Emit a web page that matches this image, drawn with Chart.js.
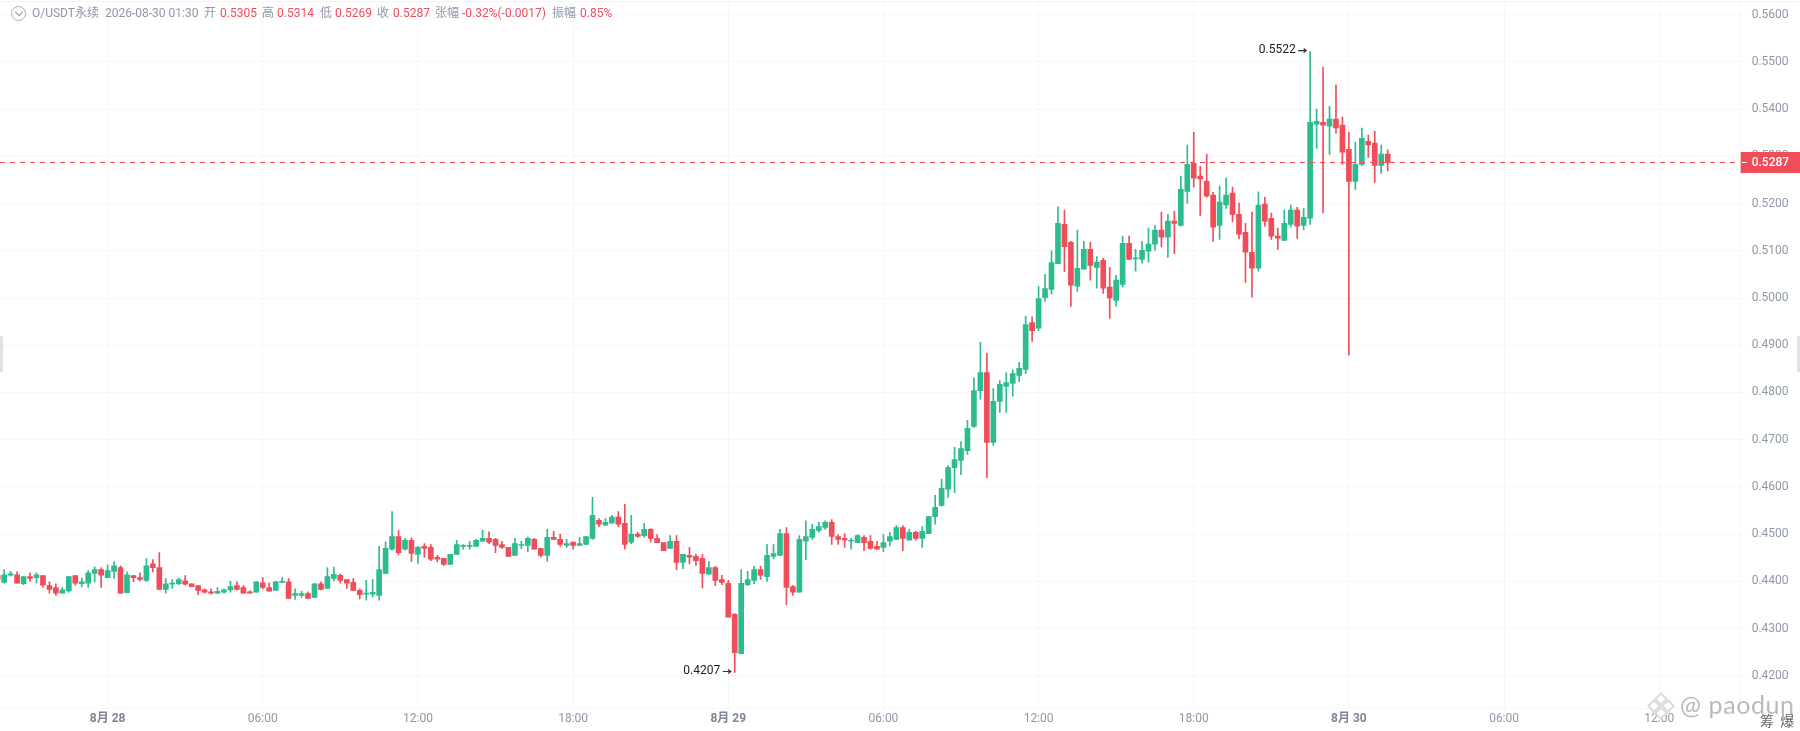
<!DOCTYPE html>
<html>
<head>
    <meta charset="utf-8">
    <title>O/USDT永续</title>
    <script src="https://cdn.jsdelivr.net/npm/chart.js"></script>
    <style>
        html, body { margin: 0; padding: 0; background: #fff; overflow: hidden; }
        body { width: 1800px; height: 731px; position: relative; font-family: Roboto, "Noto Sans CJK SC", sans-serif; }
        #priceChart { position: absolute; left: 0; top: 0; }
        .head span { position: absolute; top: 5px; font-size: 12px; line-height: 16px; color: #8f98a8; white-space: nowrap; }
        .head .red { color: #f04d5a; }
        .icon { position: absolute; left: 11px; top: 6px; width: 13px; height: 13px; border: 1px solid #a4abb8; border-radius: 50%; }
        .icon:after { content: ""; position: absolute; left: 3.5px; top: 2px; width: 5px; height: 5px; border-right: 1px solid #8f98a8; border-bottom: 1px solid #8f98a8; transform: rotate(45deg); }
        .topline { position: absolute; left: 0; top: 1px; width: 1800px; height: 1px; background: #f2f3f5; }
        .handle { position: absolute; top: 336px; width: 3px; height: 36px; background: #dfe1e5; }
        .mark { position: absolute; left: 1680px; top: 689px; font-family: Lato, sans-serif; font-size: 25px; letter-spacing: 0.6px; color: rgba(130,130,135,.55); white-space: nowrap; text-shadow: 0 0 2px #fff; }
        .diamond { position: absolute; width: 6px; height: 6px; border: 2px solid rgba(190,190,195,.55); transform: rotate(45deg); background: #fff; }
        .tag { position: absolute; left: 1760px; top: 712px; font-size: 14px; line-height: 16px; color: #666; white-space: nowrap; font-family: "Noto Sans CJK SC", sans-serif; }
    </style>
</head>
<body>
    <canvas id="priceChart" width="1800" height="731"></canvas>
    <div class="topline"></div>
    <div class="handle" style="left:0"></div>
    <div class="handle" style="right:0"></div>
    <div class="icon"></div>
    <div class="head">
        <span style="left:32px">O/USDT永续</span>
        <span style="left:105px">2026-08-30 01:30</span>
        <span style="left:204px">开</span><span class="red" style="left:220px">0.5305</span>
        <span style="left:262px">高</span><span class="red" style="left:277px">0.5314</span>
        <span style="left:320px">低</span><span class="red" style="left:335px">0.5269</span>
        <span style="left:377px">收</span><span class="red" style="left:393px">0.5287</span>
        <span style="left:435px">张幅</span><span class="red" style="left:462px">-0.32%(-0.0017)</span>
        <span style="left:552px">振幅</span><span class="red" style="left:580px">0.85%</span>
    </div>
    <div class="diamond" style="left:1656px;top:694px"></div>
    <div class="diamond" style="left:1649px;top:701px"></div>
    <div class="diamond" style="left:1663px;top:701px"></div>
    <div class="diamond" style="left:1656px;top:708px"></div>
    <div class="mark">@ paodun</div>
    <div class="tag">筹&nbsp;&nbsp;爆</div>

    <script>
        // 15 minute candles. Index 17 is 8月 28 00:00
        const opens = [
            .4412,.4398,.4413,.4414,.4395,.4410,.4408,.4412,.4391,.4387,.4375,.4380,.4412,.4395,.4396,.4417,.4425,.4408,.4421,.4429,
            .4376,.4412,.4408,.4402,.4437,.4429,.4383,.4394,.4395,.4401,.4395,.4391,.4382,.4378,.4375,.4377,.4382,.4391,.4387,.4378,
            .4377,.4397,.4387,.4381,.4398,.4399,.4370,.4370,.4374,.4366,.4395,.4385,.4406,.4413,.4404,.4398,.4381,.4373,.4373,.4370,
            .4417,.4468,.4495,.4468,.4487,.4457,.4474,.4472,.4451,.4449,.4436,.4457,.4474,.4474,.4474,.4485,.4491,.4489,.4478,.4472,
            .4455,.4476,.4476,.4489,.4470,.4455,.4493,.4489,.4476,.4483,.4476,.4478,.4491,.4529,.4519,.4523,.4536,.4523,.4483,.4500,
            .4497,.4510,.4491,.4482,.4470,.4485,.4440,.4455,.4453,.4449,.4415,.4429,.4404,.4396,.4330,.4247,.4393,.4402,.4425,.4410,
            .4453,.4455,.4501,.4389,.4377,.4485,.4493,.4508,.4514,.4525,.4495,.4491,.4485,.4482,.4493,.4485,.4474,.4472,.4485,.4489,
            .4514,.4487,.4504,.4491,.4501,.4537,.4561,.4595,.4641,.4656,.4677,.4728,.4804,.4842,.4694,.4781,.4813,.4819,.4836,.4849,
            .4948,.4936,.5001,.5018,.5073,.5156,.5118,.5025,.5061,.5103,.5065,.5080,.5023,.4995,.5029,.5116,.5083,.5082,.5099,.5114,
            .5144,.5129,.5163,.5154,.5226,.5285,.5258,.5247,.5218,.5154,.5197,.5222,.5177,.5139,.5097,.5063,.5199,.5169,.5131,.5122,
            .5156,.5186,.5154,.5169,.5368,.5372,.5364,.5379,.5366,.5315,.5247,.5283,.5332,.5328,.5281,.5305
        ];
        const highs = [
            .4414,.4425,.4421,.4420,.4410,.4418,.4418,.4412,.4399,.4395,.4387,.4410,.4412,.4407,.4423,.4431,.4429,.4435,.4442,.4433,
            .4420,.4412,.4418,.4448,.4446,.4461,.4406,.4404,.4407,.4412,.4395,.4391,.4384,.4384,.4387,.4384,.4400,.4399,.4391,.4380,
            .4399,.4408,.4397,.4400,.4408,.4406,.4384,.4379,.4378,.4395,.4399,.4429,.4430,.4416,.4404,.4406,.4384,.4402,.4404,.4474,
            .4483,.4548,.4508,.4491,.4492,.4474,.4480,.4478,.4455,.4449,.4457,.4487,.4478,.4485,.4489,.4508,.4505,.4491,.4485,.4472,
            .4491,.4485,.4494,.4491,.4470,.4510,.4506,.4500,.4489,.4483,.4493,.4495,.4578,.4533,.4533,.4540,.4548,.4563,.4540,.4504,
            .4523,.4512,.4499,.4482,.4497,.4497,.4457,.4472,.4457,.4457,.4442,.4432,.4413,.4402,.4332,.4425,.4421,.4432,.4432,.4478,
            .4478,.4510,.4514,.4391,.4497,.4528,.4521,.4525,.4528,.4531,.4499,.4501,.4491,.4499,.4497,.4497,.4485,.4499,.4504,.4518,
            .4518,.4510,.4506,.4516,.4537,.4582,.4616,.4645,.4684,.4696,.4741,.4831,.4906,.4883,.4808,.4825,.4842,.4848,.4864,.4961,
            .4960,.5025,.5050,.5100,.5193,.5186,.5120,.5144,.5120,.5118,.5088,.5084,.5065,.5048,.5131,.5131,.5103,.5120,.5148,.5154,
            .5182,.5177,.5184,.5258,.5324,.5351,.5279,.5305,.5224,.5237,.5254,.5235,.5201,.5158,.5182,.5225,.5213,.5180,.5148,.5186,
            .5197,.5192,.5190,.5522,.5400,.5489,.5406,.5451,.5383,.5351,.5330,.5360,.5345,.5353,.5324,.5314
        ];
        const lows = [
            .4404,.4396,.4411,.4396,.4393,.4400,.4396,.4387,.4375,.4370,.4375,.4377,.4392,.4388,.4387,.4399,.4387,.4408,.4406,.4375,
            .4376,.4400,.4401,.4400,.4420,.4383,.4375,.4385,.4393,.4392,.4389,.4372,.4375,.4373,.4374,.4375,.4377,.4382,.4375,.4375,
            .4377,.4384,.4379,.4381,.4397,.4364,.4362,.4366,.4364,.4366,.4382,.4385,.4401,.4396,.4385,.4381,.4363,.4360,.4367,.4360,
            .4417,.4466,.4456,.4466,.4442,.4438,.4451,.4444,.4441,.4434,.4436,.4457,.4468,.4468,.4474,.4485,.4480,.4461,.4470,.4453,
            .4455,.4469,.4463,.4468,.4451,.4442,.4489,.4474,.4472,.4468,.4476,.4478,.4489,.4516,.4519,.4523,.4516,.4468,.4480,.4493,
            .4493,.4483,.4482,.4465,.4470,.4425,.4427,.4437,.4434,.4386,.4415,.4391,.4393,.4324,.4207,.4247,.4391,.4395,.4404,.4400,
            .4448,.4455,.4350,.4370,.4377,.4446,.4489,.4504,.4510,.4478,.4478,.4472,.4468,.4482,.4465,.4468,.4468,.4463,.4475,.4489,
            .4465,.4487,.4487,.4472,.4501,.4521,.4559,.4578,.4588,.4626,.4669,.4726,.4786,.4620,.4688,.4758,.4758,.4792,.4823,.4840,
            .4908,.4931,.4993,.5008,.5073,.5056,.4982,.5014,.5061,.5038,.5021,.5010,.4957,.4983,.5023,.5082,.5057,.5074,.5076,.5101,
            .5108,.5086,.5094,.5152,.5201,.5235,.5175,.5213,.5120,.5124,.5190,.5161,.5125,.5033,.5002,.5057,.5152,.5124,.5103,.5122,
            .5150,.5126,.5144,.5156,.5317,.5180,.5304,.5349,.5283,.4879,.5230,.5281,.5298,.5245,.5264,.5269
        ];
        const closes = [
            .4404,.4414,.4416,.4396,.4410,.4406,.4414,.4392,.4383,.4375,.4382,.4410,.4396,.4399,.4418,.4425,.4413,.4423,.4433,.4375,
            .4414,.4408,.4404,.4433,.4429,.4383,.4395,.4395,.4404,.4394,.4389,.4381,.4377,.4375,.4379,.4382,.4389,.4383,.4375,.4375,
            .4399,.4387,.4379,.4399,.4399,.4364,.4374,.4374,.4364,.4395,.4383,.4410,.4415,.4402,.4396,.4381,.4372,.4375,.4377,.4425,
            .4470,.4495,.4461,.4487,.4459,.4472,.4470,.4447,.4447,.4436,.4457,.4478,.4476,.4476,.4487,.4491,.4483,.4476,.4472,.4453,
            .4480,.4478,.4491,.4468,.4455,.4493,.4489,.4478,.4480,.4476,.4480,.4495,.4540,.4521,.4525,.4536,.4521,.4478,.4500,.4495,
            .4510,.4491,.4482,.4465,.4485,.4440,.4457,.4451,.4444,.4417,.4429,.4402,.4398,.4324,.4249,.4396,.4404,.4425,.4413,.4455,
            .4459,.4501,.4387,.4377,.4489,.4495,.4510,.4516,.4525,.4495,.4489,.4487,.4487,.4497,.4482,.4470,.4468,.4482,.4495,.4514,
            .4491,.4504,.4491,.4506,.4537,.4557,.4597,.4641,.4658,.4681,.4724,.4804,.4842,.4694,.4781,.4817,.4821,.4840,.4851,.4944,
            .4931,.4999,.5020,.5075,.5158,.5109,.5027,.5063,.5103,.5069,.5076,.5021,.5000,.5038,.5116,.5082,.5084,.5101,.5114,.5144,
            .5129,.5163,.5158,.5230,.5283,.5254,.5252,.5216,.5150,.5203,.5218,.5177,.5135,.5097,.5063,.5197,.5163,.5131,.5127,.5158,
            .5186,.5152,.5171,.5372,.5374,.5366,.5379,.5360,.5309,.5247,.5283,.5338,.5324,.5281,.5305,.5287
        ];

        const xTickIndex = [17, 41, 65, 89, 113, 137, 161, 185, 209, 233, 257];
        const xTickLabels = ['8月 28', '06:00', '12:00', '18:00', '8月 29', '06:00', '12:00', '18:00', '8月 30', '06:00', '12:00'];
        const yTicks = [0.42, 0.43, 0.44, 0.45, 0.46, 0.47, 0.48, 0.49, 0.50, 0.51, 0.52, 0.53, 0.54, 0.55, 0.56];
        const lastPrice = 0.5287;
        const highMark = { index: 203, value: 0.5522 };
        const lowMark = { index: 114, value: 0.4207 };

        const UP = '#2cbc90';
        const DOWN = '#f04d5a';
        const GRID = '#f5f6f8';
        const TICK = '#8f98a8';
        const FONT = 'Roboto, "Noto Sans CJK SC", sans-serif';
        const X_MIN = 0.356;
        const X_MAX = 269.6;

        const candleColors = closes.map((c, i) => (c >= opens[i] ? UP : DOWN));

        // last price tag and the high / low notes
        const notesPlugin = {
            id: 'notes',
            afterDraw(chart) {
                const c = chart.ctx;
                const x = chart.scales.x;
                const y = chart.scales.y;
                c.save();
                const py = y.getPixelForValue(lastPrice);
                c.fillStyle = DOWN;
                c.fillRect(chart.chartArea.right, py - 10.5, 1800 - chart.chartArea.right, 21);
                c.fillStyle = '#fff';
                c.fillRect(chart.chartArea.right + 1, py - 0.5, 5, 1);
                c.font = '500 12px ' + FONT;
                c.textAlign = 'left';
                c.textBaseline = 'middle';
                c.fillText(lastPrice.toFixed(4), chart.chartArea.right + 11, py + 0.5);

                c.font = '12px ' + FONT;
                c.textAlign = 'right';
                c.fillStyle = '#1a1a1a';
                [highMark, lowMark].forEach(m => {
                    const mx = x.getPixelForValue(m.index);
                    const my = y.getPixelForValue(m.value) - 1.5;
                    c.fillText(m.value.toFixed(4), mx - 14.5, my);
                    c.strokeStyle = '#333';
                    c.lineWidth = 1.2;
                    c.beginPath();
                    c.moveTo(mx - 12, my + 0.5);
                    c.lineTo(mx - 4, my + 0.5);
                    c.moveTo(mx - 6.5, my - 1.5);
                    c.lineTo(mx - 4, my + 0.5);
                    c.lineTo(mx - 6.5, my + 2.5);
                    c.stroke();
                });
                c.restore();
            }
        };

        new Chart(document.getElementById('priceChart').getContext('2d'), {
            type: 'bar',
            data: {
                datasets: [
                    {
                        label: 'body',
                        data: opens.map((o, i) => ({ x: i, y: [Math.min(o, closes[i]), Math.max(o, closes[i])] })),
                        backgroundColor: candleColors,
                        barThickness: 5,
                        minBarLength: 1,
                        grouped: false,
                        order: 1
                    },
                    {
                        label: 'wick',
                        data: highs.map((h, i) => ({ x: i, y: [lows[i], h] })),
                        backgroundColor: candleColors,
                        barThickness: 1,
                        grouped: false,
                        order: 2
                    },
                    {
                        type: 'line',
                        label: 'last',
                        data: [{ x: X_MIN, y: lastPrice }, { x: X_MAX, y: lastPrice }],
                        borderColor: DOWN,
                        borderWidth: 1,
                        borderDash: [5, 5],
                        pointRadius: 0,
                        order: 0
                    }
                ]
            },
            options: {
                responsive: false,
                animation: false,
                devicePixelRatio: 1,
                layout: { padding: { top: 1, left: 0, right: 0, bottom: 0 } },
                plugins: { legend: { display: false }, tooltip: { enabled: false } },
                scales: {
                    x: {
                        type: 'linear',
                        offset: false,
                        min: X_MIN,
                        max: X_MAX,
                        grid: { color: GRID, offset: false, drawTicks: false },
                        border: { color: GRID },
                        afterBuildTicks: s => { s.ticks = xTickIndex.map(v => ({ value: v })); },
                        afterFit: s => { s.height = 22.7; s.paddingLeft = 0; s.paddingRight = 0; },
                        ticks: {
                            autoSkip: false,
                            maxRotation: 0,
                            padding: 3,
                            color: ctx => (String(xTickLabels[ctx.index]).includes('月') ? '#7d8696' : TICK),
                            font: ctx => ({
                                family: FONT,
                                size: 12,
                                weight: String(xTickLabels[ctx.index]).includes('月') ? 'bold' : 'normal'
                            }),
                            callback: (v, i) => xTickLabels[i]
                        }
                    },
                    y: {
                        position: 'right',
                        // picked so the last price line falls on a whole pixel
                        min: 0.413118,
                        max: 0.5629,
                        grid: { color: GRID, tickLength: 5 },
                        border: { color: GRID },
                        afterBuildTicks: s => { s.ticks = yTicks.map(v => ({ value: v })); },
                        // the tick labels must not push the plot area in
                        afterFit: s => { s.width = 59.3; s.paddingTop = 0; s.paddingBottom = 0; },
                        ticks: {
                            padding: 6,
                            color: TICK,
                            font: { family: FONT, size: 12 },
                            callback: v => v.toFixed(4)
                        }
                    }
                }
            },
            plugins: [notesPlugin]
        });
    </script>
</body>
</html>
